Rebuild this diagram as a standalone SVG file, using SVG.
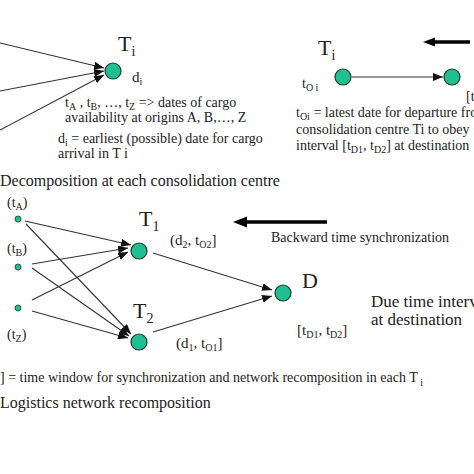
<svg xmlns="http://www.w3.org/2000/svg" width="474" height="474" viewBox="0 0 474 474">
<defs>
<style>
text{font-family:"Liberation Serif","Times New Roman",serif;fill:#222}
.s{font-size:14px}
.m{font-size:16px}
.b{font-size:22px}
.node{fill:#1fbf8f;stroke:#1d3b32;stroke-width:1.2}
.dot{fill:#1fbf8f;stroke:#1d3b32;stroke-width:0.8}
.edge{stroke:#333;stroke-width:1.1;fill:none;marker-end:url(#ah)}
.bold{stroke:#000;stroke-width:3.5;fill:none}
</style>
<marker id="ah" markerUnits="userSpaceOnUse" markerWidth="10" markerHeight="8" viewBox="0 0 10 8" refX="10" refY="4" orient="auto">
<path d="M0,0 L10,4 L0,8 Z" fill="#111"/>
</marker>
</defs>
<rect width="474" height="474" fill="#fff"/>

<g id="connectors">
<line class="edge" x1="0" y1="43" x2="104" y2="68"/>
<line class="edge" x1="0" y1="91" x2="104" y2="71"/>
<line class="edge" x1="0" y1="130" x2="104" y2="75"/>
<line class="edge" x1="352" y1="77" x2="443" y2="77"/>
<line class="bold" x1="470" y1="42" x2="432" y2="42"/>
<path d="M423,42 L435,37.5 L435,46.5 Z" fill="#000"/>
<line class="edge" x1="25" y1="221" x2="131" y2="245"/>
<line class="edge" x1="26" y1="224" x2="131" y2="334"/>
<line class="edge" x1="32" y1="264" x2="128" y2="248"/>
<line class="edge" x1="32" y1="268" x2="129" y2="336"/>
<line class="edge" x1="32" y1="300" x2="128" y2="252"/>
<line class="edge" x1="32" y1="311" x2="128" y2="338"/>
<line class="edge" x1="153" y1="253" x2="272" y2="290"/>
<line class="edge" x1="153" y1="332" x2="272" y2="296"/>
<line class="bold" x1="327" y1="222" x2="244" y2="222"/>
<path d="M233,222 L247,216.5 L247,227.5 Z" fill="#000"/>
</g>

<g id="Ti-top">
<circle class="node" cx="113" cy="71" r="8"/>
<text class="b" x="118" y="51">T<tspan font-size="14" dy="5">i</tspan></text>
<text x="132" y="82" font-size="15">d<tspan font-size="10" dy="3">i</tspan></text>
</g>
<g id="Ti-right">
<circle class="node" cx="343" cy="77" r="8"/>
<text class="b" x="318" y="55">T<tspan font-size="14" dy="5">i</tspan></text>
<text class="s" x="302" y="88">t<tspan font-size="10" dy="3">O i</tspan></text>
</g>
<g id="D-right">
<circle class="node" cx="452" cy="77" r="8"/>
<text class="s" x="466" y="101">[t</text>
</g>

<g id="notes-top">
<text class="s" x="65" y="107">t<tspan font-size="10" dy="3">A</tspan><tspan dy="-3"> , t</tspan><tspan font-size="10" dy="3">B</tspan><tspan dy="-3">, …, t</tspan><tspan font-size="10" dy="3">Z</tspan><tspan dy="-3">  =&gt; dates of cargo</tspan></text>
<text class="s" x="65" y="122">availability  at origins A, B,…, Z</text>
<text class="s" x="58" y="143">d<tspan font-size="10" dy="3">i</tspan><tspan dy="-3"> = earliest (possible) date for cargo</tspan></text>
<text class="s" x="58" y="158">arrival in T i</text>
<text class="m" x="0" y="186">Decomposition at each consolidation centre</text>
<text class="s" x="296" y="117">t<tspan font-size="10" dy="3">Oi</tspan><tspan dy="-3"> = latest date for departure from</tspan></text>
<text class="s" x="296" y="134">consolidation centre Ti to obey</text>
<text class="s" x="296" y="150">interval [t<tspan font-size="10" dy="3">D1</tspan><tspan dy="-3">, t</tspan><tspan font-size="10" dy="3">D2</tspan><tspan dy="-3">] at destination</tspan></text>
</g>

<g id="A">
<circle class="dot" cx="18" cy="219" r="3"/>
<text class="s" x="7" y="207">(t<tspan font-size="10" dy="3">A</tspan><tspan dy="-3">)</tspan></text>
</g>
<g id="B">
<circle class="dot" cx="18" cy="267" r="3"/>
<text class="s" x="7" y="253">(t<tspan font-size="10" dy="3">B</tspan><tspan dy="-3">)</tspan></text>
</g>
<g id="Z">
<circle class="dot" cx="18" cy="308" r="3"/>
<text class="s" x="7" y="339">(t<tspan font-size="10" dy="3">Z</tspan><tspan dy="-3">)</tspan></text>
</g>
<g id="T1">
<circle class="node" cx="139" cy="251" r="8"/>
<text class="b" x="139" y="226">T<tspan font-size="14" dy="5">1</tspan></text>
<text x="170" y="245" font-size="15">(d<tspan font-size="10" dy="3">2</tspan><tspan dy="-3">, t</tspan><tspan font-size="10" dy="3">O2</tspan><tspan dy="-3">]</tspan></text>
</g>
<g id="T2">
<circle class="node" cx="139" cy="342" r="8"/>
<text class="b" x="133" y="318">T<tspan font-size="14" dy="5">2</tspan></text>
<text x="176" y="348" font-size="15">(d<tspan font-size="10" dy="3">1</tspan><tspan dy="-3">, t</tspan><tspan font-size="10" dy="3">O1</tspan><tspan dy="-3">]</tspan></text>
</g>
<g id="D">
<circle class="node" cx="283" cy="293" r="8"/>
<text class="b" x="302" y="288">D</text>
<text x="297" y="335" font-size="15">[t<tspan font-size="10" dy="3">D1</tspan><tspan dy="-3">, t</tspan><tspan font-size="10" dy="3">D2</tspan><tspan dy="-3">]</tspan></text>
<text x="371" y="307" font-size="17">Due time interval</text>
<text x="371" y="325" font-size="17">at destination</text>
</g>

<g id="notes-bottom">
<text class="s" x="271" y="242">Backward time synchronization</text>
<text class="s" x="0" y="382">] = time window for synchronization and network recomposition in each T<tspan font-size="10" dy="4"> i</tspan></text>
<text class="m" x="0" y="408">Logistics network recomposition</text>
</g>
</svg>
